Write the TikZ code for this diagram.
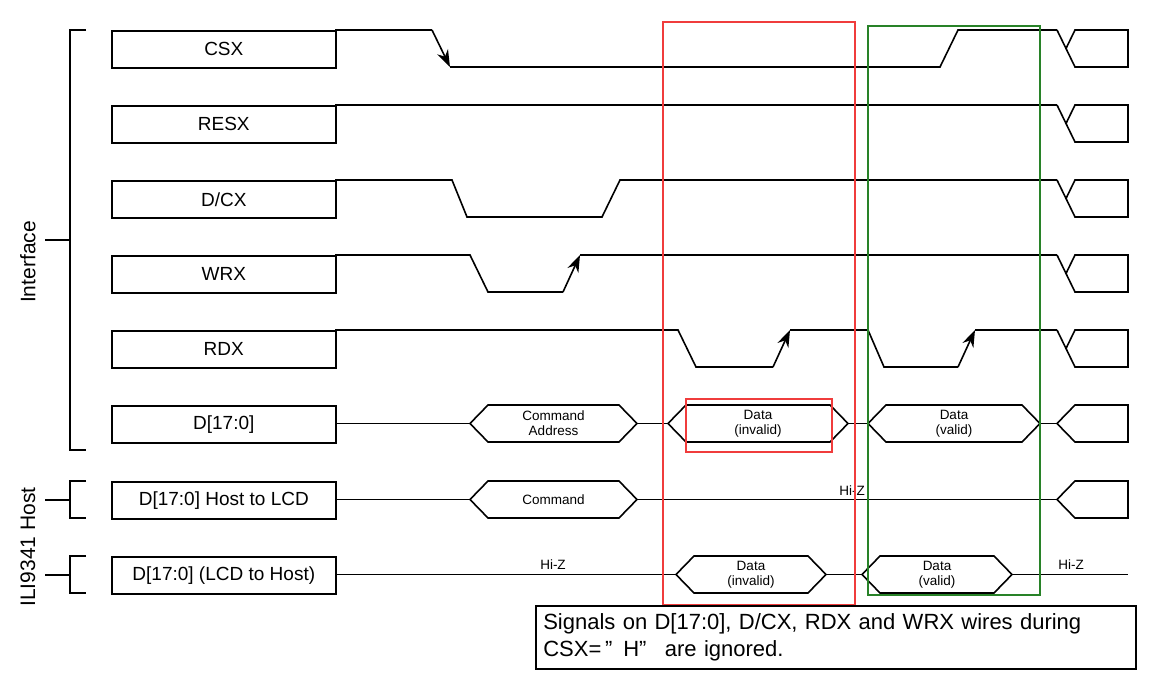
\documentclass[tikz,border=0pt]{standalone}
\usepackage{fontspec}
\setmainfont{Liberation Sans}
\usetikzlibrary{arrows.meta}
\newcommand{\hexa}[5]{% x1 x2 ytop name text
  \draw[sig] (#1,#3+18.5) -- (#1+18,#3) -- (#2-18,#3) -- (#2,#3+18.5) -- (#2-18,#3+37) -- (#1+18,#3+37) -- cycle;
  \node[htxt] (#4) at ({(#1+#2)/2},#3+18.5) {#5};}
\newcommand{\tailx}[1]{% ytop
  \draw[sig] (1057,#1) -- (1075,#1+37) -- (1128,#1+37) -- (1128,#1) -- (1075,#1) -- (1066,#1+18.5);}
\newcommand{\tailh}[1]{%
  \draw[sig] (1057,#1+18.5) -- (1075,#1) -- (1128,#1) -- (1128,#1+37) -- (1075,#1+37) -- cycle;}
\definecolor{hred}{RGB}{240,60,60}
\definecolor{hgreen}{RGB}{40,130,40}
\begin{document}
\begin{tikzpicture}[x=1pt,y=-1pt,
  sig/.style={line width=1.6pt,line join=miter},
  arr/.style={sig,-{Stealth[length=17pt,width=12pt]}},
  lab/.style={draw,line width=1.6pt,minimum width=224pt,minimum height=37pt,inner sep=0pt,font=\fontsize{19}{19}\selectfont},
  htxt/.style={font=\fontsize{13.5}{15}\selectfont,align=center},
  hz/.style={font=\fontsize{13.5}{15}\selectfont}]
\useasboundingbox (0,0) rectangle (1176,682);
% label boxes
\foreach \n/\t/\y in {csx/CSX/30,resx/RESX/105,dcx/D\slash CX/180,wrx/WRX/255,rdx/RDX/330,d/D[17:0]/405,hl/D[17:0] Host to LCD/481,lh/D[17:0] (LCD to Host)/556}
  \node[lab,anchor=north west] (\n) at (111,\y) {\t};
% brackets
\draw[sig] (86,30) -- (70,30) -- (70,450) -- (86,450);
\draw[sig] (45,240) -- (70,240);
\node[rotate=90,font=\fontsize{21}{21}\selectfont] (ifc) at (28,262) {Interface};
\draw[sig] (86,481) -- (70,481) -- (70,518) -- (86,518);
\draw[sig] (45,500) -- (70,500);
\draw[sig] (86,556) -- (70,556) -- (70,593) -- (86,593);
\draw[sig] (45,575) -- (70,575);
\node[rotate=90,font=\fontsize{21}{21}\selectfont] (host) at (28,547) {ILI9341 Host};
% CSX
\draw[sig] (335,30) -- (432,30);
\draw[arr] (432,30) -- (450,67);
\draw[sig] (450,67) -- (940,67) -- (958,30) -- (1057,30);
\tailx{30}
% RESX
\draw[sig] (335,105) -- (1057,105); \tailx{105}
% D/CX
\draw[sig] (335,180) -- (452,180) -- (467,217) -- (602,217) -- (620,180) -- (1057,180); \tailx{180}
% WRX
\draw[sig] (335,255) -- (470,255) -- (488,292) -- (563,292);
\draw[arr] (563,292) -- (580,255);
\draw[sig] (580,255) -- (1057,255); \tailx{255}
% RDX
\draw[sig] (335,330) -- (678,330) -- (696,367) -- (773,367);
\draw[arr] (773,367) -- (790,330);
\draw[sig] (790,330) -- (868,330) -- (884,367) -- (958,367);
\draw[arr] (958,367) -- (975,330);
\draw[sig] (975,330) -- (1057,330); \tailx{330}
% D[17:0]
\draw[sig] (335,423.5) -- (470,423.5) (637,423.5) -- (668,423.5) (848,423.5) -- (868,423.5) (1040,423.5) -- (1057,423.5);
\hexa{470}{637}{405}{ca}{Command\\Address}
\hexa{668}{848}{405}{di1}{Data\\(invalid)}
\hexa{868}{1040}{405}{dv1}{Data\\(valid)}
\tailh{405}
% Host to LCD
\draw[sig] (335,499.5) -- (470,499.5) (637,499.5) -- (1057,499.5);
\hexa{470}{637}{481}{cmd}{Command}
\node[hz] (hz1) at (852,491) {Hi-Z};
\tailh{481}
% LCD to Host
\draw[sig] (335,574.5) -- (676,574.5) (826,574.5) -- (862,574.5) (1012,574.5) -- (1128,574.5);
\hexa{676}{826}{556}{di2}{Data\\(invalid)}
\hexa{862}{1012}{556}{dv2}{Data\\(valid)}
\node[hz] (hz2) at (553,565) {Hi-Z};
\node[hz] (hz3) at (1071,565) {Hi-Z};
% highlight boxes
\draw[line width=2.5pt,hred] (663,22) rectangle (855,605);
\draw[line width=2.5pt,hgreen] (868,26) rectangle (1040,595);
\draw[line width=2.5pt,hred] (686,399) rectangle (832,452);
% note
\node[draw,line width=1.6pt,anchor=north west,minimum width=600pt,minimum height=63pt,text width=585pt,align=left,font=\fontsize{22}{27}\selectfont] (note) at (535,605) {Signals on D[17:0], D/CX, RDX and WRX wires during\\CSX=\,”\enspace H”\enspace\ are ignored.};
\end{tikzpicture}
\end{document}
